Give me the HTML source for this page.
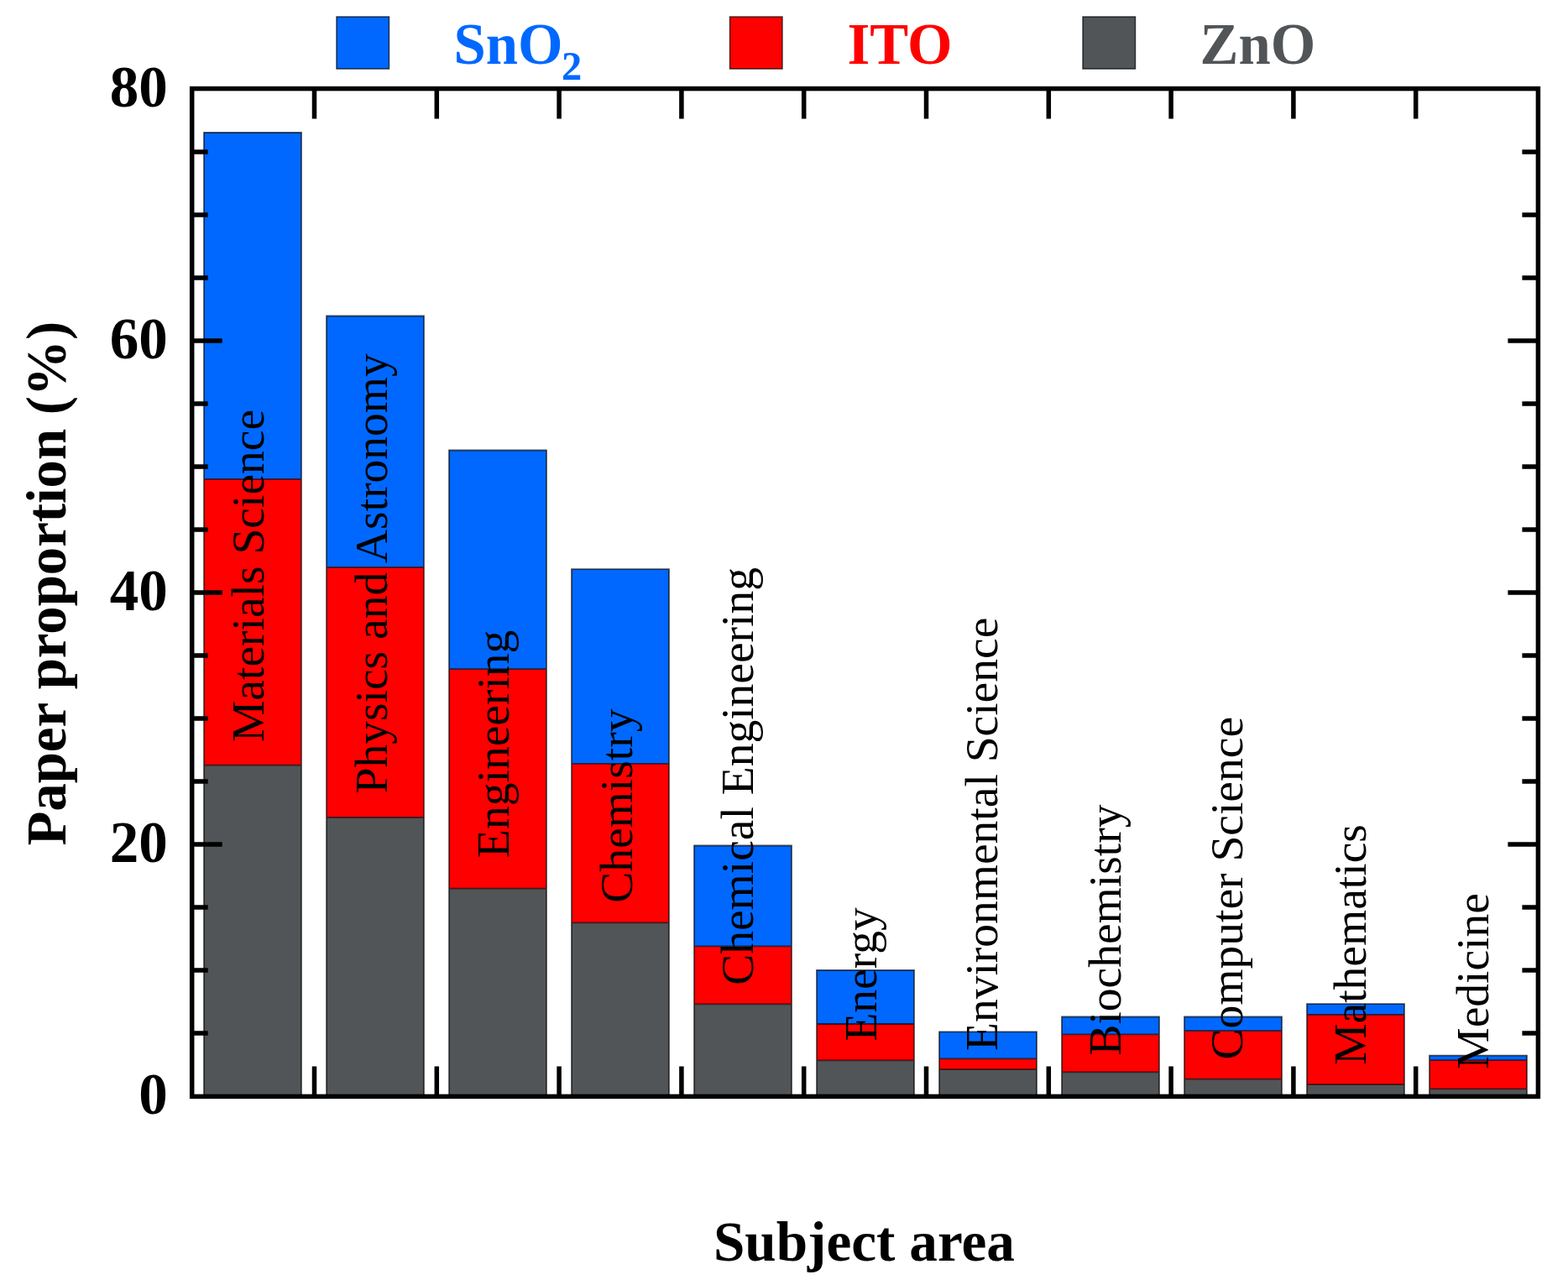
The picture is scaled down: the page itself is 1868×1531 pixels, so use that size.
<!DOCTYPE html>
<html><head><meta charset="utf-8"><title>Paper proportion by subject area</title>
<style>
html,body{margin:0;padding:0;background:#fff;}
body{width:1868px;height:1531px;overflow:hidden;}
svg{display:block;}
text{font-family:"Liberation Serif","Times New Roman",serif;}
.lab{font-size:55.5px;fill:#000;}
.yl{font-size:69px;font-weight:bold;text-anchor:end;fill:#000;}
.tt{font-size:66.8px;font-weight:bold;fill:#000;}
.lg{font-size:68.8px;font-weight:bold;}
</style></head><body>
<svg width="1868" height="1531" viewBox="0 0 1868 1531">
<rect x="243.00" y="911.60" width="116.0" height="394.40" fill="#515558"/>
<rect x="243.00" y="570.90" width="116.0" height="340.70" fill="#ff0000"/>
<rect x="243.00" y="158.00" width="116.0" height="412.90" fill="#0068ff"/>
<rect x="389.00" y="973.80" width="116.0" height="332.20" fill="#515558"/>
<rect x="389.00" y="675.80" width="116.0" height="298.00" fill="#ff0000"/>
<rect x="389.00" y="376.50" width="116.0" height="299.30" fill="#0068ff"/>
<rect x="535.00" y="1058.70" width="116.0" height="247.30" fill="#515558"/>
<rect x="535.00" y="797.20" width="116.0" height="261.50" fill="#ff0000"/>
<rect x="535.00" y="536.50" width="116.0" height="260.70" fill="#0068ff"/>
<rect x="681.00" y="1099.30" width="116.0" height="206.70" fill="#515558"/>
<rect x="681.00" y="909.80" width="116.0" height="189.50" fill="#ff0000"/>
<rect x="681.00" y="678.20" width="116.0" height="231.60" fill="#0068ff"/>
<rect x="827.00" y="1196.40" width="116.0" height="109.60" fill="#515558"/>
<rect x="827.00" y="1127.30" width="116.0" height="69.10" fill="#ff0000"/>
<rect x="827.00" y="1007.50" width="116.0" height="119.80" fill="#0068ff"/>
<rect x="973.00" y="1263.40" width="116.0" height="42.60" fill="#515558"/>
<rect x="973.00" y="1220.00" width="116.0" height="43.40" fill="#ff0000"/>
<rect x="973.00" y="1156.00" width="116.0" height="64.00" fill="#0068ff"/>
<rect x="1119.00" y="1274.10" width="116.0" height="31.90" fill="#515558"/>
<rect x="1119.00" y="1261.40" width="116.0" height="12.70" fill="#ff0000"/>
<rect x="1119.00" y="1229.30" width="116.0" height="32.10" fill="#0068ff"/>
<rect x="1265.00" y="1277.30" width="116.0" height="28.70" fill="#515558"/>
<rect x="1265.00" y="1232.40" width="116.0" height="44.90" fill="#ff0000"/>
<rect x="1265.00" y="1211.50" width="116.0" height="20.90" fill="#0068ff"/>
<rect x="1411.00" y="1285.70" width="116.0" height="20.30" fill="#515558"/>
<rect x="1411.00" y="1228.20" width="116.0" height="57.50" fill="#ff0000"/>
<rect x="1411.00" y="1211.50" width="116.0" height="16.70" fill="#0068ff"/>
<rect x="1557.00" y="1292.10" width="116.0" height="13.90" fill="#515558"/>
<rect x="1557.00" y="1208.90" width="116.0" height="83.20" fill="#ff0000"/>
<rect x="1557.00" y="1196.10" width="116.0" height="12.80" fill="#0068ff"/>
<rect x="1703.00" y="1297.40" width="116.0" height="8.60" fill="#515558"/>
<rect x="1703.00" y="1263.20" width="116.0" height="34.20" fill="#ff0000"/>
<rect x="1703.00" y="1257.60" width="116.0" height="5.60" fill="#0068ff"/>
<path d="M243.00 1306.00V158.00H359.00V1306.00M243.00 570.90H359.00M243.00 911.60H359.00M389.00 1306.00V376.50H505.00V1306.00M389.00 675.80H505.00M389.00 973.80H505.00M535.00 1306.00V536.50H651.00V1306.00M535.00 797.20H651.00M535.00 1058.70H651.00M681.00 1306.00V678.20H797.00V1306.00M681.00 909.80H797.00M681.00 1099.30H797.00M827.00 1306.00V1007.50H943.00V1306.00M827.00 1127.30H943.00M827.00 1196.40H943.00M973.00 1306.00V1156.00H1089.00V1306.00M973.00 1220.00H1089.00M973.00 1263.40H1089.00M1119.00 1306.00V1229.30H1235.00V1306.00M1119.00 1261.40H1235.00M1119.00 1274.10H1235.00M1265.00 1306.00V1211.50H1381.00V1306.00M1265.00 1232.40H1381.00M1265.00 1277.30H1381.00M1411.00 1306.00V1211.50H1527.00V1306.00M1411.00 1228.20H1527.00M1411.00 1285.70H1527.00M1557.00 1306.00V1196.10H1673.00V1306.00M1557.00 1208.90H1673.00M1557.00 1292.10H1673.00M1703.00 1306.00V1257.60H1819.00V1306.00M1703.00 1263.20H1819.00M1703.00 1297.40H1819.00" fill="none" stroke="#000" stroke-opacity="0.65" stroke-width="1.8"/>
<text transform="translate(314.3,884.0) rotate(-90)" class="lab">Materials Science</text>
<text transform="translate(461.3,945.4) rotate(-90)" class="lab">Physics and Astronomy</text>
<text transform="translate(606.3,1021.9) rotate(-90)" class="lab">Engineering</text>
<text transform="translate(753.3,1075.8) rotate(-90)" class="lab">Chemistry</text>
<text transform="translate(897.3,1173.8) rotate(-90)" class="lab">Chemical Engineering</text>
<text transform="translate(1043.9,1240.6) rotate(-90)" class="lab">Energy</text>
<text transform="translate(1188.3,1252.0) rotate(-90)" class="lab">Environmental Science</text>
<text transform="translate(1334.6,1257.6) rotate(-90)" class="lab">Biochemistry</text>
<text transform="translate(1479.6,1262.4) rotate(-90)" class="lab">Computer Science</text>
<text transform="translate(1626.5,1268.8) rotate(-90)" class="lab">Mathematics</text>
<text transform="translate(1772.8,1273.7) rotate(-90)" class="lab">Medicine</text>
<rect x="228.7" y="105.6" width="1603.7" height="1200.8" fill="none" stroke="#000" stroke-width="5.5"/>
<path d="M374.5 105.6V141.6M374.5 1306.4V1270.4M520.3 105.6V141.6M520.3 1306.4V1270.4M666.1 105.6V141.6M666.1 1306.4V1270.4M811.9 105.6V141.6M811.9 1306.4V1270.4M957.7 105.6V141.6M957.7 1306.4V1270.4M1103.5 105.6V141.6M1103.5 1306.4V1270.4M1249.3 105.6V141.6M1249.3 1306.4V1270.4M1395.1 105.6V141.6M1395.1 1306.4V1270.4M1540.9 105.6V141.6M1540.9 1306.4V1270.4M1686.7 105.6V141.6M1686.7 1306.4V1270.4M228.7 1231.0H247.7M1832.4 1231.0H1813.4M228.7 1156.0H247.7M1832.4 1156.0H1813.4M228.7 1081.0H247.7M1832.4 1081.0H1813.4M228.7 1006.0H264.7M1832.4 1006.0H1796.4M228.7 931.0H247.7M1832.4 931.0H1813.4M228.7 856.0H247.7M1832.4 856.0H1813.4M228.7 781.0H247.7M1832.4 781.0H1813.4M228.7 706.0H264.7M1832.4 706.0H1796.4M228.7 631.0H247.7M1832.4 631.0H1813.4M228.7 556.0H247.7M1832.4 556.0H1813.4M228.7 481.0H247.7M1832.4 481.0H1813.4M228.7 406.0H264.7M1832.4 406.0H1796.4M228.7 331.0H247.7M1832.4 331.0H1813.4M228.7 256.0H247.7M1832.4 256.0H1813.4M228.7 181.0H247.7M1832.4 181.0H1813.4" stroke="#000" stroke-width="5.5" fill="none"/>
<text x="199.8" y="1327.3" class="yl">0</text>
<text x="199.8" y="1027.3" class="yl">20</text>
<text x="199.8" y="727.3" class="yl">40</text>
<text x="199.8" y="427.3" class="yl">60</text>
<text x="199.8" y="127.3" class="yl">80</text>
<text transform="translate(77.6,1007.5) rotate(-90)" class="tt">Paper proportion (%)</text>
<text x="850" y="1502" class="tt" style="font-size:67.2px">Subject area</text>
<rect x="401" y="20" width="62.5" height="62" fill="#0068ff" stroke="#000" stroke-opacity="0.7" stroke-width="1.5"/>
<rect x="869.5" y="20" width="62.5" height="62" fill="#ff0000" stroke="#000" stroke-opacity="0.7" stroke-width="1.5"/>
<rect x="1290" y="20" width="62.5" height="62" fill="#515558" stroke="#000" stroke-opacity="0.7" stroke-width="1.5"/>
<text x="540.5" y="75.6" class="lg" fill="#0068ff">SnO<tspan font-size="48.5" dx="-1.5" dy="19.5">2</tspan></text>
<text x="1009.5" y="76" class="lg" fill="#ff0000">ITO</text>
<text x="1429.5" y="75.5" class="lg" fill="#515558">ZnO</text>
</svg>
</body></html>
